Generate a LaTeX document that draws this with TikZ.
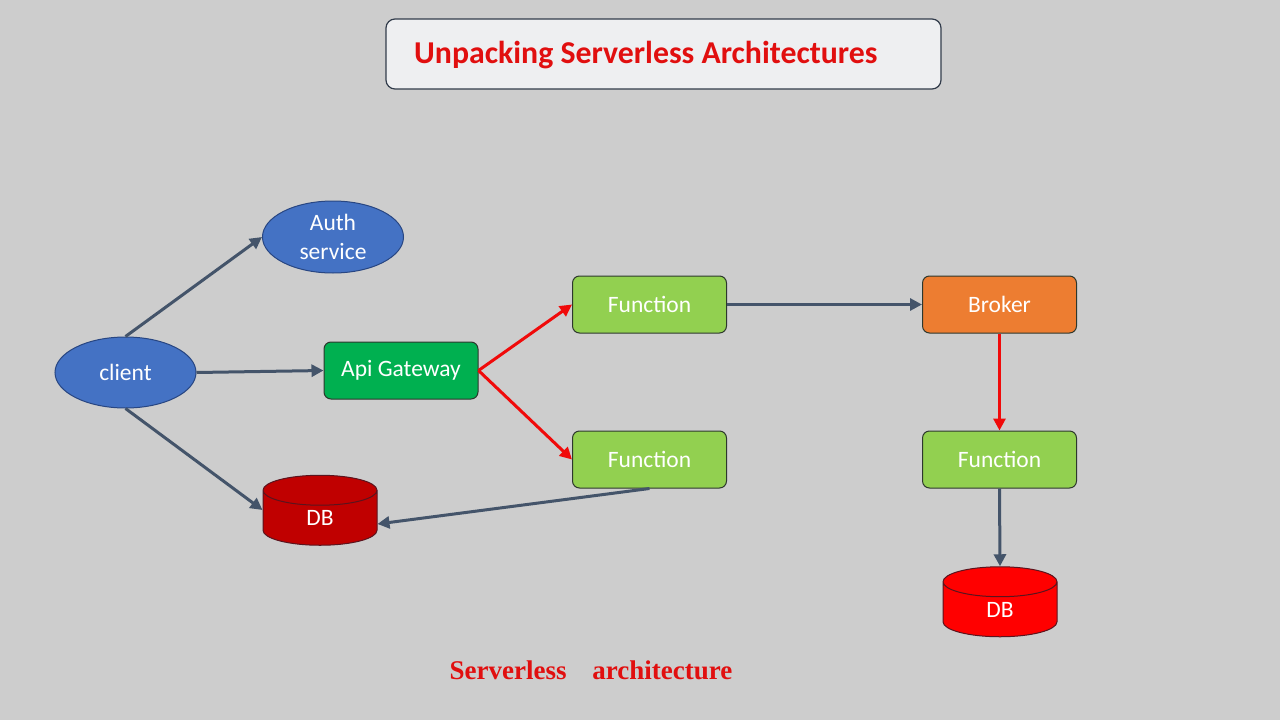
\documentclass[tikz,border=0pt]{standalone}
\usepackage{fontspec}
\setmainfont{Carlito}
\newfontfamily\capfont{Liberation Serif}
\usetikzlibrary{shapes.geometric,arrows.meta,calc}
\definecolor{bg}{RGB}{205,205,205}
\definecolor{titlefill}{RGB}{238,239,241}
\definecolor{titleborder}{RGB}{50,60,75}
\definecolor{titlered}{RGB}{225,15,15}
\definecolor{ellfill}{RGB}{68,114,196}
\definecolor{ellborder}{RGB}{40,70,130}
\definecolor{gwfill}{RGB}{0,176,80}
\definecolor{fnfill}{RGB}{146,208,80}
\definecolor{brfill}{RGB}{237,125,49}
\definecolor{boxborder}{RGB}{45,55,45}
\definecolor{dbdark}{RGB}{192,0,0}
\definecolor{dbred}{RGB}{255,0,0}
\definecolor{dbborder}{RGB}{90,20,30}
\definecolor{arrowgray}{RGB}{68,84,106}
\definecolor{arrowred}{RGB}{240,10,10}
\tikzset{
  every node/.style={font=\fontsize{23.5}{29}\selectfont, text=white},
  ellnode/.style={ellipse, draw=ellborder, line width=1pt, fill=ellfill, minimum width=141pt, minimum height=72pt, inner sep=0pt, align=center},
  boxnode/.style={rectangle, rounded corners=7pt, draw=boxborder, line width=1pt, minimum width=154pt, minimum height=57pt, inner sep=0pt},
  dbnode/.style={cylinder, shape border rotate=90, aspect=1.1, draw=dbborder, line width=1pt, minimum width=114pt, minimum height=70pt, inner sep=0pt},
  conn/.style={draw=arrowgray, line width=3pt, -{Triangle[length=12pt,width=12pt]}},
  redconn/.style={draw=arrowred, line width=3pt, -{Triangle[length=12pt,width=12pt]}},
}
\begin{document}
\begin{tikzpicture}[x=1pt,y=-1pt]
\useasboundingbox (0,0) rectangle (1280,720);
\fill[bg] (0,0) rectangle (1280,720);
% title
\node[rectangle, rounded corners=9pt, draw=titleborder, line width=1.2pt, fill=titlefill, minimum width=555pt, minimum height=70pt, inner sep=0pt] (tbox) at (663.5,54) {};
\node[anchor=west, inner sep=0pt, text=titlered, font=\fontsize{31.8}{36}\selectfont\bfseries] (ttl) at (414,55) {Unpacking Serverless Architectures};
% nodes
\node[ellnode] (auth) at (333,237) {Auth\\service};
\node[ellnode, minimum height=71pt] (client) at (125.5,372.5) {client};
\node[boxnode, fill=gwfill] (api) at (401,370.5) {Api Gateway};
\node[boxnode, fill=fnfill] (f1) at (649.5,304.5) {Function};
\node[boxnode, fill=fnfill] (f2) at (649.5,459.5) {Function};
\node[boxnode, fill=brfill] (broker) at (999.5,304.5) {Broker};
\node[boxnode, fill=fnfill] (f3) at (999.5,459.5) {Function};
\node[dbnode, fill=dbdark] (db1) at (320,518) {DB};
\node[dbnode, fill=dbred] (db2) at (1000,609.5) {DB};
% caption
\node[text=titlered, font=\fontsize{27}{30}\selectfont\capfont\bfseries] (cap) at (591,670) {Serverless\hspace{0.7em} architecture};
% connectors
\draw[conn] (client.north) -- (auth.west);
\draw[conn] (client.east) -- (api.west);
\draw[conn] (client.south) -- ([yshift=8pt]db1.west);
\draw[redconn] (api.east) -- (f1.west);
\draw[redconn] (api.east) -- (f2.west);
\draw[conn] (f1.east) -- (broker.west);
\draw[redconn] (broker.south) -- (f3.north);
\draw[conn] (f3.south) -- (db2.north);
\draw[conn] (f2.south) -- ([yshift=-6pt]db1.east);
\end{tikzpicture}
\end{document}
